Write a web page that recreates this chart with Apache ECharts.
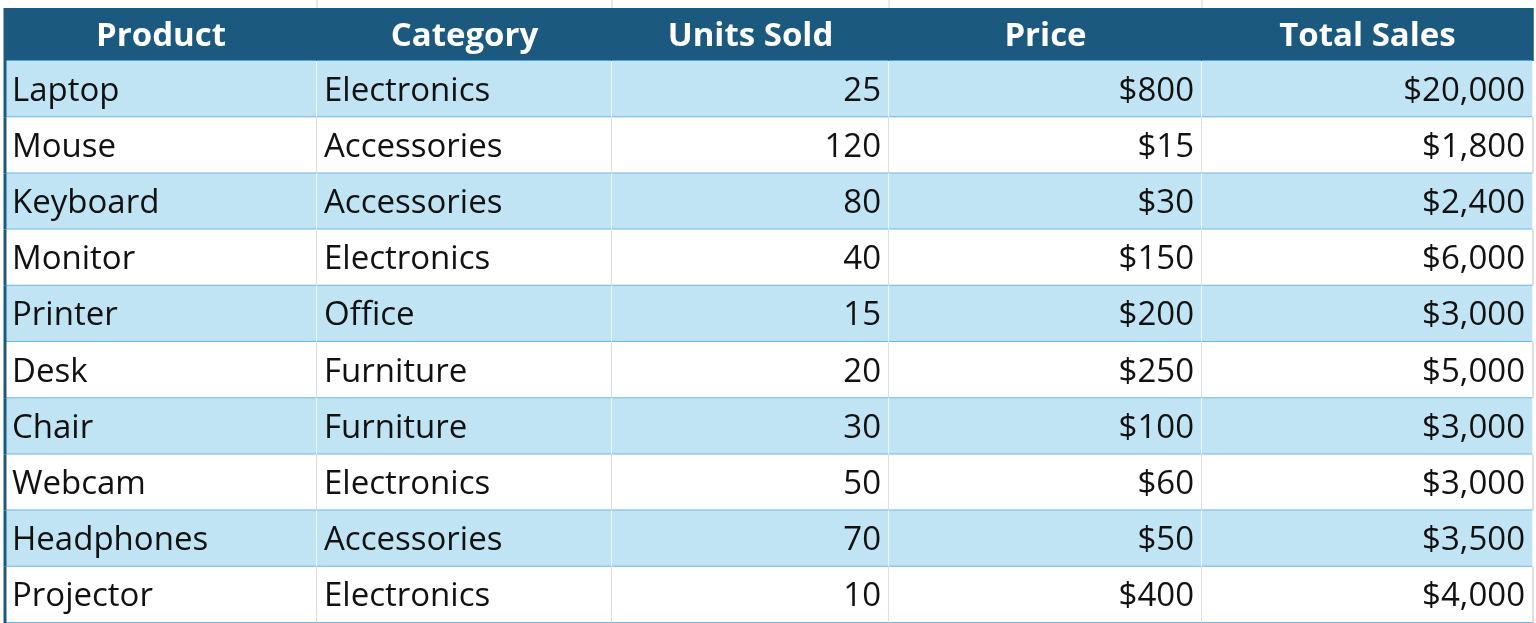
<!DOCTYPE html>
<html><head><meta charset="utf-8">
<script src="https://cdn.jsdelivr.net/npm/echarts@6/dist/echarts.min.js"></script>
<style>html,body{margin:0;padding:0;background:#fff}#c{width:1536px;height:623px}</style>
</head><body><div id="c"></div>
<script>
const headers = ["Product","Category","Units Sold","Price","Total Sales"];
const products = ["Laptop","Mouse","Keyboard","Monitor","Printer","Desk","Chair","Webcam","Headphones","Projector"];
const categories = ["Electronics","Accessories","Accessories","Electronics","Office","Furniture","Furniture","Electronics","Accessories","Electronics"];
const units = [25,120,80,40,15,20,30,50,70,10];
const prices = [800,15,30,150,200,250,100,60,50,400];
const totals = [20000,1800,2400,6000,3000,5000,3000,3000,3500,4000];

const colEdges = [5,317,612,889,1202,1533];
const headerTop = 8, headerBottom = 61, rowH = 56.2;
const align = ['left','left','right','right','right'];
const money = v => '$' + v.toLocaleString('en-US');

const data = [];
headers.forEach((h,c)=>data.push([c,-1,h]));
for (let r=0;r<products.length;r++){
  const vals=[products[r],categories[r],String(units[r]),money(prices[r]),money(totals[r])];
  vals.forEach((v,c)=>data.push([c,r,v]));
}
function rowTop(r){return r<0?headerTop:headerBottom+r*rowH;}
function rowBot(r){return r<0?headerBottom:headerBottom+(r+1)*rowH;}

const chart = echarts.init(document.getElementById('c'));
chart.setOption({
  animation:false,
  grid:{left:0,right:0,top:0,bottom:0},
  xAxis:{type:'value',min:0,max:1536,show:false},
  yAxis:{type:'value',min:0,max:623,inverse:true,show:false},
  series:[{
    type:'custom',
    data:data,
    renderItem:function(params,api){
      const c=api.value(0), r=api.value(1), txt=data[params.dataIndex][2];
      const p0=api.coord([colEdges[c],rowTop(r)]);
      const p1=api.coord([colEdges[c+1],rowBot(r)]);
      const isH=r<0, blue=!isH && r%2===0;
      const fill=isH?'#1b5a7e':(blue?'#c1e4f5':'#ffffff');
      const a=isH?'center':align[c];
      const tx=a==='center'?(p0[0]+p1[0])/2:(a==='left'?p0[0]+7:p1[0]-8);
      const children=[
        {type:'rect',shape:{x:p0[0],y:p0[1],width:p1[0]-p0[0],height:p1[1]-p0[1]},style:{fill:fill}},
        {type:'line',shape:{x1:p0[0],y1:p1[1],x2:p1[0],y2:p1[1]},style:{stroke:isH?'#4ea6d8':'#66b8e6',lineWidth:2}},
        {type:'line',shape:{x1:p1[0],y1:p0[1],x2:p1[0],y2:p1[1]},style:{stroke:isH?'#1b5a7e':(blue?'#ffffff':'#d4d4d4'),lineWidth:1.5}},
        {type:'text',style:{x:tx,y:(p0[1]+p1[1])/2+2,text:txt,align:a,verticalAlign:'middle',
          fill:isH?'#ffffff':'#111111',font:(isH?'bold ':'')+'33px "Open Sans", Lato, sans-serif'}}
      ];
      if(c===0) children.push({type:'line',shape:{x1:p0[0],y1:p0[1],x2:p0[0],y2:p1[1]},style:{stroke:'#1b5a7e',lineWidth:3}});
      return {type:'group',children:children};
    }
  }],
  graphic:[
    {type:'line',shape:{x1:317,y1:0,x2:317,y2:8},style:{stroke:'#d4d4d4'}},
    {type:'line',shape:{x1:612,y1:0,x2:612,y2:8},style:{stroke:'#d4d4d4'}},
    {type:'line',shape:{x1:889,y1:0,x2:889,y2:8},style:{stroke:'#d4d4d4'}},
    {type:'line',shape:{x1:1202,y1:0,x2:1202,y2:8},style:{stroke:'#d4d4d4'}}
  ]
});
</script></body></html>
